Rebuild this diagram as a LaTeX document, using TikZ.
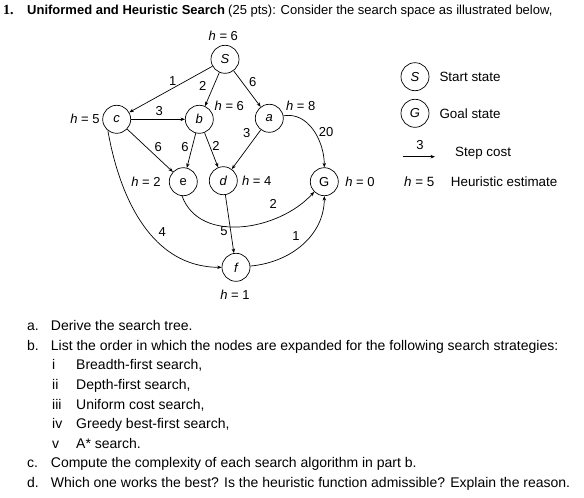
\documentclass[tikz,border=0pt]{standalone}
\usepackage{fontspec}
\setmainfont{Liberation Sans}
\newfontfamily\numfont{Liberation Serif}
\usetikzlibrary{arrows.meta}
\tikzset{
  statenode/.style={draw, circle, line width=0.7pt, minimum size=28pt, inner sep=0pt, font=\fontsize{13}{15}\selectfont},
  hlabel/.style={font=\fontsize{13}{15}\selectfont, inner sep=0pt},
  costlabel/.style={font=\fontsize{13}{15}\selectfont, inner sep=0pt},
  edge/.style={-{Stealth[length=4.5pt,width=3.5pt]}, line width=0.7pt},
  bodytext/.style={font=\fontsize{14}{16}\selectfont, anchor=base west, inner sep=0pt},
  headtext/.style={font=\fontsize{13}{15}\selectfont, anchor=base west, inner sep=0pt},
  legendtext/.style={font=\fontsize{13.4}{15}\selectfont, anchor=base west, inner sep=0pt}
}

\begin{document}
\begin{tikzpicture}[x=1pt, y=-1pt]
  \useasboundingbox (0,0) rectangle (584,498);

  % heading
  \node[bodytext] (num) at (3,14) {\numfont\bfseries 1.};
  \node[headtext] (title) at (27,14) {\bfseries Uniformed and Heuristic Search};
  \node[headtext] (intro) at (228,14) {(25 pts): Consider the search space as illustrated below,};

  % states
  \node[statenode] (S) at (225,59.3) {\itshape S};
  \node[statenode] (c) at (116.7,119.3) {\itshape c};
  \node[statenode] (b) at (199.3,119.3) {\itshape b};
  \node[statenode] (a) at (269.3,118.3) {\itshape a};
  \node[statenode] (e) at (183.3,181.7) {e};
  \node[statenode] (d) at (223.3,180.7) {\itshape d};
  \node[statenode] (G) at (324.3,181.7) {G};
  \node[statenode] (f) at (236,267.3) {\itshape f};

  % heuristic values
  \node[hlabel] (hS) at (223.3,36) {\textit{h} = 6};
  \node[hlabel] (hc) at (85,119.3) {\textit{h} = 5};
  \node[hlabel] (hb) at (229.3,106) {\textit{h} = 6};
  \node[hlabel] (ha) at (300.7,106) {\textit{h} = 8};
  \node[hlabel] (he) at (146,181.7) {\textit{h} = 2};
  \node[hlabel] (hd) at (256.7,180.7) {\textit{h} = 4};
  \node[hlabel] (hG) at (360,181.7) {\textit{h} = 0};
  \node[hlabel] (hf) at (235,295) {\textit{h} = 1};

  % step costs
  \draw[edge] (S) -- (c);
  \draw[edge] (S) -- (b);
  \draw[edge] (S) -- (a);
  \draw[edge] (c) -- (b);
  \draw[edge] (c) -- (e);
  \draw[edge] (b) -- (e);
  \draw[edge] (b) -- (d);
  \draw[edge] (a) -- (d);
  \draw[edge] (a) to[out=10, in=90] (G);
  \draw[edge] (e.-95) to[out=-70, in=-132] (G.-135);
  \draw[edge] (d) -- (f);
  \draw[edge] (c.-128) to[out=-80, in=180] (f);
  \draw[edge] (f) to[out=5, in=-90] (G);

  \node[costlabel] (lSc) at (172.7,80.7) {1};
  \node[costlabel] (lSb) at (202.7,86) {2};
  \node[costlabel] (lSa) at (252.7,81.7) {6};
  \node[costlabel] (lcb) at (159.3,110.7) {3};
  \node[costlabel] (lce) at (158.3,146.7) {6};
  \node[costlabel] (lbe) at (185,146.7) {6};
  \node[costlabel] (lbd) at (216,145.7) {2};
  \node[costlabel] (lad) at (246.7,133.3) {3};
  \node[costlabel] (laG) at (326,131.7) {20};
  \node[costlabel] (leG) at (273.3,204) {2};
  \node[costlabel] (ldf) at (224,230.7) {5};
  \node[costlabel] (lcf) at (162.3,231.7) {4};
  \node[costlabel] (lfG) at (296,236) {1};

  % legend
  \node[statenode] (keyS) at (415,76.7) {\itshape S};
  \node[legendtext] (keySt) at (439.3,81.4) {Start state};
  \node[statenode] (keyG) at (415,113.3) {\itshape G};
  \node[legendtext] (keyGt) at (439.3,118) {Goal state};
  \coordinate (keyA1) at (402.7,156.7);
  \coordinate (keyA2) at (435,156.7);
  \draw[edge] (keyA1) -- (keyA2);
  \node[costlabel] (keyAc) at (420,145) {3};
  \node[legendtext] (keyAt) at (455,156.4) {Step cost};
  \node[legendtext] (keyh) at (404,186.4) {\textit{h} = 5};
  \node[legendtext] (keyht) at (450.7,186.4) {Heuristic estimate};

  % questions
  \node[bodytext] (qa) at (27,330.7) {a.};
  \node[bodytext] (qat) at (50.7,330.7) {Derive the search tree.};
  \node[bodytext] (qb) at (27,350.3) {b.};
  \node[bodytext] (qbt) at (50.7,350.3) {List the order in which the nodes are expanded for the following search strategies:};
  \node[bodytext] (qb1) at (52,369.9) {i};
  \node[bodytext] (qb1t) at (76,369.9) {Breadth-first search,};
  \node[bodytext] (qb2) at (52,389.5) {ii};
  \node[bodytext] (qb2t) at (76,389.5) {Depth-first search,};
  \node[bodytext] (qb3) at (52,409.1) {iii};
  \node[bodytext] (qb3t) at (76,409.1) {Uniform cost search,};
  \node[bodytext] (qb4) at (52,428.7) {iv};
  \node[bodytext] (qb4t) at (76,428.7) {Greedy best-first search,};
  \node[bodytext] (qb5) at (52,448.3) {v};
  \node[bodytext] (qb5t) at (76,448.3) {A* search.};
  \node[bodytext] (qc) at (27,467.9) {c.};
  \node[bodytext] (qct) at (50.7,467.9) {Compute the complexity of each search algorithm in part b.};
  \node[bodytext] (qd) at (27,487.5) {d.};
  \node[bodytext] (qdt) at (50.7,487.5) {Which one works the best? Is the heuristic function admissible? Explain the reason.};
\end{tikzpicture}
\end{document}
